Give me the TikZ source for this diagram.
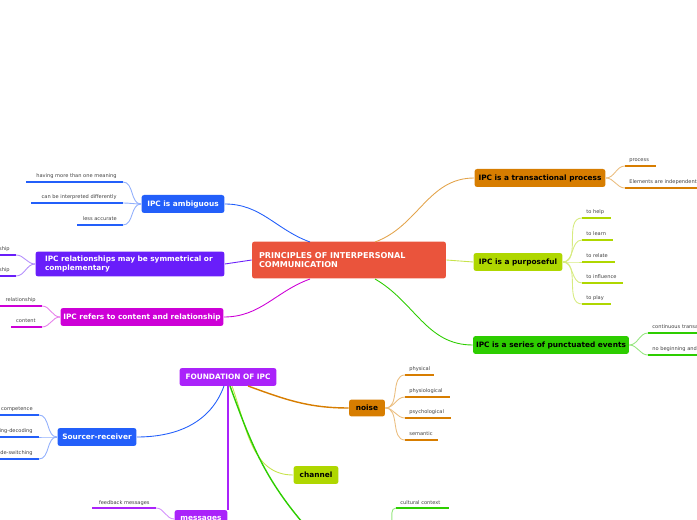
\documentclass[tikz,border=0pt]{standalone}
\usepackage{fontspec}
\setmainfont{DejaVu Sans}
\usepackage{tikz}
\usetikzlibrary{positioning}
\definecolor{rotbox}{RGB}{234,84,60}
\definecolor{blau}{RGB}{35,95,250}
\definecolor{lila}{RGB}{105,30,250}
\definecolor{magenta}{RGB}{205,0,215}
\definecolor{orange}{RGB}{215,125,0}
\definecolor{gelbgruen}{RGB}{175,215,0}
\definecolor{gruen}{RGB}{45,205,0}
\definecolor{violett}{RGB}{170,35,250}
\tikzset{
  box/.style={rounded corners=1.5pt, fill=#1, text=white, font=\bfseries\fontsize{4.2}{5}\selectfont, inner sep=0pt, anchor=center},
  darkbox/.style={box=#1, text=black},
  leaftext/.style={font=\fontsize{2.9}{3.5}\selectfont, text=black!75, inner sep=0pt},
  leafline/.style={#1, line width=0.9pt},
  branch/.style={#1, line width=0.5pt},
}
\begin{document}
\begin{tikzpicture}[x=0.02cm, y=-0.02cm]
        \useasboundingbox (0,0) rectangle (697,520);
        \clip (0,0) rectangle (697,520);

        % Hauptknoten
        \node[box=rotbox, minimum width=3.88cm, minimum height=0.74cm, align=left, text width=3.6cm, font=\bfseries\fontsize{4.6}{5.6}\selectfont] (ipc) at (349,260) {PRINCIPLES OF INTERPERSONAL\\COMMUNICATION};

        % Aeste links
        \node[box=blau, minimum width=1.66cm, minimum height=0.36cm] (ambig) at (183,204) {IPC is ambiguous};
        \node[box=lila, minimum width=3.78cm, minimum height=0.5cm, align=left, text width=3.4cm] (symm) at (130,264) {IPC relationships may be symmetrical or complementary};
        \node[box=magenta, minimum width=3.26cm, minimum height=0.36cm] (refers) at (142,317) {IPC refers to content and relationship};

        % Aeste rechts
        \node[darkbox=orange, minimum width=2.62cm, minimum height=0.36cm] (trans) at (540,178) {IPC is a transactional process};
        \node[darkbox=gelbgruen, minimum width=1.78cm, minimum height=0.36cm] (purp) at (518,262) {IPC is a purposeful};
        \node[darkbox=gruen, minimum width=3.12cm, minimum height=0.36cm] (punct) at (551,345) {IPC is a series of punctuated events};

        % Foundation
        \node[box=violett, minimum width=1.94cm, minimum height=0.36cm] (found) at (228,377) {FOUNDATION OF IPC};
        \node[darkbox=orange, minimum width=0.72cm, minimum height=0.34cm] (noise) at (367,408) {noise};
        \node[darkbox=gelbgruen, minimum width=0.9cm, minimum height=0.36cm] (chan) at (316,475) {channel};
        \node[box=blau, minimum width=1.58cm, minimum height=0.36cm] (src) at (97,437) {Sourcer-receiver};
        \node[box=violett, minimum width=1.06cm, minimum height=0.36cm] (msg) at (201,519) {messages};
        \coordinate (ctx) at (302,522);
        \coordinate (ctxleaf) at (392,522);

        % Verbindungen
        \draw[branch=blau] (310,242) to[out=160, in=0] (ambig.east);
        \draw[branch=lila] (ipc.west) -- (symm.east);
        \draw[branch=magenta] (310,279) to[out=200, in=0] (refers.east);
        \draw[branch=orange!70] (375,242) to[out=20, in=180] (trans.west);
        \draw[branch=gelbgruen!70] (ipc.east) -- (purp.west);
        \draw[branch=gruen] (375,279) to[out=-30, in=180] (punct.west);

        \draw[branch=orange, line width=0.8pt] (248,386) to[out=-20, in=180] (noise.west);
        \draw[branch=blau] (224,386) to[out=-110, in=0] (src.east);
        \draw[branch=gelbgruen!70] (232,386) to[out=-70, in=180] (chan.west);
        \draw[branch=violett, line width=0.8pt] (228,386) -- (228,510);
        \draw[branch=gruen, line width=0.8pt] (230,386) to[out=-70, in=130] (ctx);

        % Blaetter rechtsbuendig (Linie x1 bis x2 bei y)
        \foreach \xa/\xb/\y/\col/\txt/\elt in {
            26/123/182/blau/having more than one meaning/ambig,
            31/123/203/blau/can be interpreted differently/ambig,
            77/123/225/blau/less accurate/ambig,
            -10/16/255/lila/symmetrical relationship/symm,
            -10/16/276/lila/complementary relationship/symm,
            -10/42/306/magenta/relationship/refers,
            11/42/327/magenta/content/refers,
            -10/39/415/blau/communication competence/src,
            -10/39/437/blau/encoding-decoding/src,
            -10/39/459/blau/code-switching/src,
            92/156/508/violett/feedback messages/msg}{
          \draw[leafline=\col] (\xa,\y) -- (\xb,\y);
          \node[leaftext, anchor=base east] at (\xb-6,\y-4) {\txt};
          \draw[branch=\col!50] (\elt.west) to[out=180, in=0] (\xb,\y);
        }

        % Blaetter linksbuendig
        \foreach \xa/\xb/\y/\col/\txt/\elt in {
            625/656/166/orange/process/trans,
            625/710/188/orange/Elements are independent/trans,
            582/611/218/gelbgruen/to help/purp,
            582/613/240/gelbgruen/to learn/purp,
            582/615/262/gelbgruen/to relate/purp,
            582/623/283/gelbgruen/to influence/purp,
            582/611/304/gelbgruen/to play/purp,
            648/710/333/gruen/continuous transactions/punct,
            648/710/355/gruen/no beginning and end/punct,
            405/434/375/orange/physical/noise,
            405/450/397/orange/physiological/noise,
            405/451/418/orange/psychological/noise,
            405/438/440/orange/semantic/noise}{
          \draw[leafline=\col] (\xa,\y) -- (\xb,\y);
          \node[leaftext, anchor=base west] at (\xa+4,\y-4) {\txt};
          \draw[branch=\col!50] (\elt.east) to[out=0, in=180] (\xa,\y);
        }

        % Kontext
        \draw[leafline=gruen] (396,508) -- (449,508);
        \node[leaftext, anchor=base west] (cult) at (400,504) {cultural context};
        \draw[branch=gruen!50] (ctxleaf) to[out=90, in=180] (396,508);
\end{tikzpicture}
\end{document}
